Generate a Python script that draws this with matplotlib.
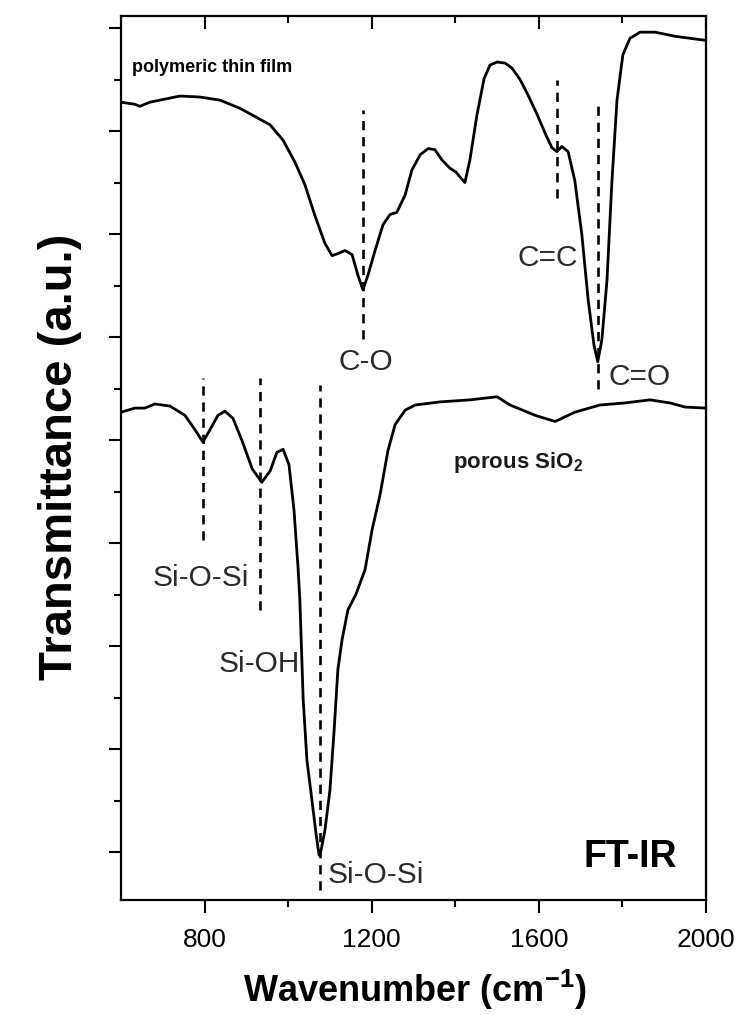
import matplotlib
matplotlib.use("Agg")
import matplotlib.pyplot as plt
from matplotlib.ticker import MultipleLocator, FixedLocator

plt.rcParams['font.family'] = ['Liberation Sans', 'DejaVu Sans']

# ---- data: polymeric thin film (wavenumber cm-1, transmittance a.u.) ----
film_wn = [600, 633, 645, 669, 705, 741, 789, 837, 885, 921, 957, 988, 1016, 1040,
           1064, 1088, 1105, 1119, 1136, 1153, 1167, 1179, 1191, 1208, 1227, 1244,
           1260, 1280, 1296, 1316, 1335, 1351, 1368, 1387, 1402, 1414, 1423, 1435,
           1452, 1469, 1483, 1500, 1519, 1536, 1555, 1574, 1596, 1617, 1631, 1643,
           1655, 1670, 1686, 1703, 1718, 1732, 1741, 1751, 1763, 1775, 1787, 1801,
           1818, 1842, 1878, 1926, 2000]
film_T = [7.28, 7.26, 7.24, 7.28, 7.31, 7.34, 7.33, 7.30, 7.22, 7.14, 7.06, 6.91, 6.70,
          6.48, 6.18, 5.91, 5.79, 5.81, 5.84, 5.80, 5.60, 5.46, 5.60, 5.84, 6.09, 6.19,
          6.21, 6.38, 6.62, 6.77, 6.83, 6.82, 6.72, 6.64, 6.60, 6.54, 6.50, 6.72, 7.16,
          7.51, 7.64, 7.67, 7.66, 7.61, 7.50, 7.35, 7.16, 6.96, 6.84, 6.80, 6.85, 6.80,
          6.52, 5.99, 5.36, 4.92, 4.76, 4.98, 5.55, 6.52, 7.30, 7.74, 7.90, 7.96, 7.96,
          7.92, 7.88]

# ---- data: porous SiO2 ----
sio2_wn = [600, 633, 657, 681, 717, 753, 777, 796, 813, 832, 849, 868, 890, 914, 937,
           957, 973, 988, 1002, 1014, 1019, 1024, 1028, 1036, 1045, 1057, 1067, 1074,
           1079, 1088, 1100, 1110, 1119, 1129, 1143, 1162, 1184, 1201, 1220, 1239,
           1256, 1280, 1304, 1363, 1435, 1500, 1531, 1591, 1639, 1686, 1746, 1806,
           1866, 1914, 1950, 2000]
sio2_T = [4.27, 4.31, 4.31, 4.35, 4.33, 4.24, 4.10, 3.98, 4.10, 4.24, 4.28, 4.21, 3.99,
          3.72, 3.59, 3.70, 3.88, 3.91, 3.76, 3.32, 3.03, 2.74, 2.45, 1.48, 0.89, 0.50,
          0.17, -0.03, 0.02, 0.21, 0.60, 1.18, 1.77, 2.06, 2.35, 2.50, 2.74, 3.13,
          3.47, 3.90, 4.15, 4.29, 4.34, 4.37, 4.39, 4.42, 4.34, 4.24, 4.18, 4.27,
          4.34, 4.36, 4.39, 4.36, 4.32, 4.31]

# ---- peak markers: position, dashed line span (T), label, label position ----
peak_wn = [1179, 1643, 1741, 796, 933, 1076]
peak_lo = [4.98, 6.35, 4.50, 3.03, 2.35, -0.37]
peak_hi = [7.20, 7.50, 7.28, 4.60, 4.60, 4.53]
peak_lbl = ['C-O', 'C=C', 'C=O', 'Si-O-Si', 'Si-OH', 'Si-O-Si']
peak_lbl_wn = [1185, 1622, 1840, 790, 930, 1210]
peak_lbl_T = [4.76, 5.77, 4.61, 2.66, 1.83, -0.22]

xticks_major = [800, 1200, 1600, 2000]
xticks_minor = [1000, 1400, 1800]

fig = plt.figure(figsize=(7.36, 10.15), dpi=100)
ax = fig.add_axes([121/736, 1 - 900/1015, (706-121)/736, (900-16)/1015])

ax.plot(film_wn, film_T, color='black', lw=2.0, solid_joinstyle='round')
ax.plot(sio2_wn, sio2_T, color='black', lw=2.0, solid_joinstyle='round')

for wn, lo, hi in zip(peak_wn, peak_lo, peak_hi):
    ax.plot([wn, wn], [lo, hi], color='black', lw=1.9, ls=(0, (3.5, 2.6)))

for lbl, x, y in zip(peak_lbl, peak_lbl_wn, peak_lbl_T):
    ax.text(x, y, lbl, fontsize=21.5, color='#2a2a2a', ha='center', va='center')

ax.text(626, 7.62, 'polymeric thin film', fontsize=13, fontweight='bold',
        ha='left', va='center')
ax.text(1394, 3.78, 'porous SiO$_\\mathregular{2}$', fontsize=16, ha='left', va='center',
        fontweight='bold', color='#1a1a1a')
ax.text(1818, -0.05, 'FT-IR', fontsize=27, fontweight='bold', ha='center', va='center')

ax.set_xlim(600, 2000)
ax.set_ylim(-0.466, 8.117)
ax.xaxis.set_major_locator(FixedLocator(xticks_major))
ax.xaxis.set_minor_locator(FixedLocator(xticks_minor))
ax.yaxis.set_major_locator(MultipleLocator(1))
ax.yaxis.set_minor_locator(MultipleLocator(0.5))
ax.set_yticklabels([])
ax.set_xticklabels([str(v) for v in xticks_major])
ax.tick_params(axis='x', which='major', direction='out', length=9, width=1.5,
               labelsize=19, pad=11, top=True)
ax.tick_params(axis='x', which='minor', direction='out', length=5, width=1.5, top=True)
ax.tick_params(axis='y', which='major', direction='out', length=9, width=1.5)
ax.tick_params(axis='y', which='minor', direction='out', length=5, width=1.5)
for lab in ax.get_xticklabels():
    lab.set_clip_on(False)
for sp in ax.spines.values():
    sp.set_linewidth(1.6)

# top ticks point inward
for t in ax.xaxis.get_major_ticks() + ax.xaxis.get_minor_ticks():
    t.tick2line.set_marker(3)

fig.text(415/736, 1 - 990/1015, 'Wavenumber (cm$^{\\mathregular{-1}}$)', fontsize=26,
         fontweight='bold', ha='center', va='center')
fig.text(60/736, 1 - 457/1015, 'Transmittance (a.u.)', fontsize=34, fontweight='bold',
         ha='center', va='center', rotation=90)

fig.savefig('out.png', dpi=100)
